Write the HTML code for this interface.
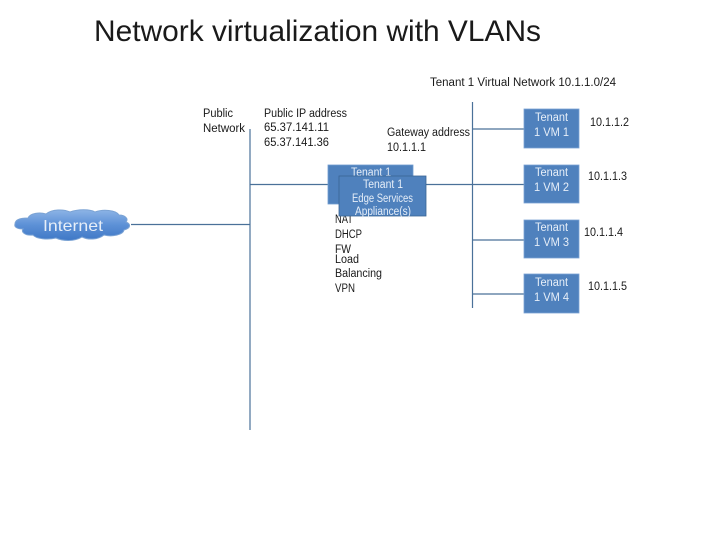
<!DOCTYPE html>
<html>
<head>
<meta charset="utf-8">
<style>
html,body{margin:0;padding:0;background:#fff;width:728px;height:546px;overflow:hidden}
svg{display:block}
text{font-family:"Liberation Sans",sans-serif;font-size:11.5px;fill:#1a1a1a}
.w{fill:#e6eef8}
</style>
</head>
<body>
<svg width="728" height="546" viewBox="0 0 728 546" xmlns="http://www.w3.org/2000/svg">
<defs>
<linearGradient id="c" x1="0" y1="0" x2="0" y2="1">
<stop offset="0" stop-color="#8db4e6"/>
<stop offset="0.5" stop-color="#5c90d6"/>
<stop offset="1" stop-color="#3f78c6"/>
</linearGradient>
</defs>
<rect width="728" height="546" fill="#fff"/>
<text x="94" y="41" style="font-size:30px" fill="#111" textLength="447" lengthAdjust="spacingAndGlyphs">Network virtualization with VLANs</text>
<text x="430" y="86" textLength="186" lengthAdjust="spacingAndGlyphs">Tenant  1 Virtual Network 10.1.1.0/24</text>

<g stroke="#4a7199" stroke-width="1.2" fill="none">
<line x1="250" y1="129" x2="250" y2="430"/>
<line x1="472.5" y1="102" x2="472.5" y2="308"/>
<line x1="131" y1="224.5" x2="250" y2="224.5"/>
<line x1="250" y1="184.5" x2="328" y2="184.5"/>
<line x1="426" y1="184.5" x2="524" y2="184.5"/>
<line x1="472.5" y1="129" x2="524" y2="129"/>
<line x1="472.5" y1="240" x2="524" y2="240"/>
<line x1="472.5" y1="294" x2="524" y2="294"/>
</g>

<path d="M15 224 C15 219 22 218 28 218 C30 213 40 212 46 214 C52 209 64 209 70 212 C78 209 90 209 95 212 C103 209 116 210 119 215 C125 215 129 219 126 222 C131 224 131 228 124 230 C123 235 112 237 104 235 C98 240 88 240 82 237 C74 242 62 241 56 238 C48 240 36 239 33 235 C25 236 21 232 23 229 C17 229 14 227 15 224 Z" fill="url(#c)" stroke="#7ba3d4" stroke-width="1"/>
<text x="43" y="231" class="w" style="font-size:16px" textLength="60" lengthAdjust="spacingAndGlyphs">Internet</text>

<text x="203" y="117" textLength="30" lengthAdjust="spacingAndGlyphs">Public</text>
<text x="203" y="132" textLength="42" lengthAdjust="spacingAndGlyphs">Network</text>
<text x="264" y="117" textLength="83" lengthAdjust="spacingAndGlyphs">Public IP address</text>
<text x="264" y="131" textLength="65" lengthAdjust="spacingAndGlyphs">65.37.141.11</text>
<text x="264" y="146" textLength="65" lengthAdjust="spacingAndGlyphs">65.37.141.36</text>
<text x="387" y="136" textLength="83" lengthAdjust="spacingAndGlyphs">Gateway address</text>
<text x="387" y="151" textLength="39" lengthAdjust="spacingAndGlyphs">10.1.1.1</text>

<rect x="328" y="165" width="85" height="39" fill="#4f81bd" stroke="#6f9bcf" stroke-width="0.8"/>
<text x="351" y="176" class="w" textLength="40" lengthAdjust="spacingAndGlyphs">Tenant 1</text>

<text x="335" y="223" textLength="18" lengthAdjust="spacingAndGlyphs">NAT</text>
<rect x="339" y="176" width="87" height="40" fill="#4f81bd" stroke="#3a6494" stroke-width="0.8"/>
<text x="363" y="188" class="w" textLength="40" lengthAdjust="spacingAndGlyphs">Tenant 1</text>
<text x="352" y="202" class="w" textLength="61" lengthAdjust="spacingAndGlyphs">Edge Services</text>
<text x="355" y="215" class="w" textLength="56" lengthAdjust="spacingAndGlyphs">Appliance(s)</text>

<text x="335" y="238" textLength="27" lengthAdjust="spacingAndGlyphs">DHCP</text>
<text x="335" y="253" textLength="16" lengthAdjust="spacingAndGlyphs">FW</text>
<text x="335" y="263" textLength="24" lengthAdjust="spacingAndGlyphs">Load</text>
<text x="335" y="277" textLength="47" lengthAdjust="spacingAndGlyphs">Balancing</text>
<text x="335" y="292" textLength="20" lengthAdjust="spacingAndGlyphs">VPN</text>

<g fill="#4f81bd" stroke="#7ba3d4" stroke-width="0.8">
<rect x="524" y="109" width="55" height="39"/>
<rect x="524" y="165" width="55" height="38"/>
<rect x="524" y="220" width="55" height="38"/>
<rect x="524" y="274" width="55" height="39"/>
</g>
<text x="535" y="121" class="w" textLength="33" lengthAdjust="spacingAndGlyphs">Tenant</text>
<text x="534" y="136" class="w" textLength="35" lengthAdjust="spacingAndGlyphs">1 VM 1</text>
<text x="535" y="176" class="w" textLength="33" lengthAdjust="spacingAndGlyphs">Tenant</text>
<text x="534" y="191" class="w" textLength="35" lengthAdjust="spacingAndGlyphs">1 VM 2</text>
<text x="535" y="231" class="w" textLength="33" lengthAdjust="spacingAndGlyphs">Tenant</text>
<text x="534" y="246" class="w" textLength="35" lengthAdjust="spacingAndGlyphs">1 VM 3</text>
<text x="535" y="286" class="w" textLength="33" lengthAdjust="spacingAndGlyphs">Tenant</text>
<text x="534" y="301" class="w" textLength="35" lengthAdjust="spacingAndGlyphs">1 VM 4</text>

<text x="590" y="126" textLength="39" lengthAdjust="spacingAndGlyphs">10.1.1.2</text>
<text x="588" y="180" textLength="39" lengthAdjust="spacingAndGlyphs">10.1.1.3</text>
<text x="584" y="236" textLength="39" lengthAdjust="spacingAndGlyphs">10.1.1.4</text>
<text x="588" y="290" textLength="39" lengthAdjust="spacingAndGlyphs">10.1.1.5</text>
</svg>
</body>
</html>
